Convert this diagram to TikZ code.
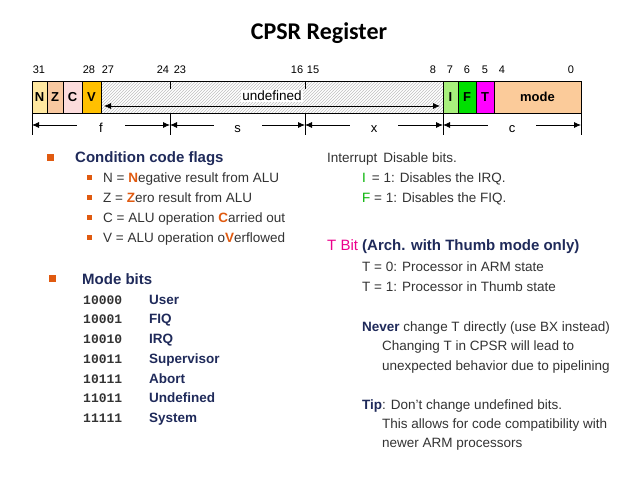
\documentclass[tikz,border=0pt]{standalone}
\usepackage{fontspec}
\setmainfont{Liberation Sans}
\setmonofont{Liberation Mono}
\newfontfamily\titlef{Carlito}
\usetikzlibrary{patterns,arrows.meta}
\definecolor{navy}{HTML}{1F2A5A}
\definecolor{org}{HTML}{E05A10}
\definecolor{gtxt}{HTML}{333333}
\begin{document}
\begin{tikzpicture}[x=1pt,y=-1pt,
 cell/.style={draw=black,line width=1pt},
 bl/.style={font=\fontsize{11}{12}\selectfont,anchor=base},
 tx/.style={anchor=base west,inner sep=0pt,font=\fontsize{13.5}{15}\selectfont,text=gtxt},
 hd/.style={anchor=base west,inner sep=0pt,font=\fontsize{15}{17}\selectfont\bfseries,text=navy},
 bul/.style={fill=org,minimum size=7pt,inner sep=0pt},
 sbul/.style={fill=org,minimum size=5pt,inner sep=0pt},
 mono/.style={anchor=base west,inner sep=0pt,font=\ttfamily\fontsize{13}{15}\selectfont\bfseries,text=gtxt}]
\useasboundingbox (0,0) rectangle (638,478);
\node (title) at (319,33) {\titlef\bfseries\fontsize{24}{26}\selectfont CPSR Register};
% cells
\fill[pattern=north east lines,pattern color=gray!50] (101,82) rectangle (443,114);
\filldraw[cell,fill={rgb,255:red,255;green,232;blue,160}] (32,82) rectangle (47,114);
\filldraw[cell,fill={rgb,255:red,248;green,200;blue,160}] (47,82) rectangle (63,114);
\filldraw[cell,fill={rgb,255:red,252;green,220;blue,220}] (63,82) rectangle (82,114);
\filldraw[cell,fill={rgb,255:red,255;green,192;blue,0}] (82,82) rectangle (101,114);
\filldraw[cell,fill={rgb,255:red,168;green,240;blue,124}] (443,82) rectangle (458,114);
\filldraw[cell,fill={rgb,255:red,0;green,224;blue,0}] (458,82) rectangle (476,114);
\filldraw[cell,fill={rgb,255:red,255;green,0;blue,255}] (476,82) rectangle (494,114);
\filldraw[cell,fill={rgb,255:red,251;green,203;blue,154}] (494,82) rectangle (581,114);
\draw[cell] (32,82) rectangle (581,114);
\draw (170,82) -- (170,89) (305,82) -- (305,89);
\foreach \x/\t in {39.5/N,55/Z,72.5/C,91.5/V,450.5/I,467/F,485/T,537.5/mode}
  \node[font=\bfseries\fontsize{13}{14}\selectfont] at (\x,97) {\t};
\node[fill=white,inner sep=1pt,font=\fontsize{13.5}{15}\selectfont] (und) at (272,96) {undefined};
\coordinate (ua) at (104,106); \coordinate (ub) at (440,106);
\draw[{Latex[length=7pt,width=6pt]}-{Latex[length=7pt,width=6pt]},line width=0.8pt] (ua) -- (ub);
% bit numbers
\foreach \x/\t in {39/31,89/28,108/27,163/24,180/23,297/16,313/15,433/8,450/7,467/6,485/5,502/4,571/0}
  \node[bl] at (\x,74) {\t};
% lower arrows
\foreach \x in {32,170,305,443,581} \draw (\x,114) -- (\x,135);
\foreach \a/\b/\t in {32/170/f,170/305/s,305/443/x,443/581/c}{
  \draw[{Latex[length=7pt,width=6pt]}-{Latex[length=7pt,width=6pt]},line width=0.8pt] (\a,125) -- (\b,125);
  \fill[white] ({(\a+\b)/2-24},120) rectangle ({(\a+\b)/2+24},130);
  \node[inner sep=0pt,font=\fontsize{13}{14}\selectfont,anchor=base] (L\t) at ({(\a+\b)/2},133) {\t};
}
% left column
\node[bul] at (50,158) {};
\node[hd] at (75,163) {Condition code flags};
\node[sbul] at (89,178) {}; \node[tx] at (103,183) {N = \textcolor{org}{\textbf{N}}egative result from ALU};
\node[sbul] at (89,198) {}; \node[tx] at (103,203) {Z = \textcolor{org}{\textbf{Z}}ero result from ALU};
\node[sbul] at (89,218) {}; \node[tx] at (103,223) {C = ALU operation \textcolor{org}{\textbf{C}}arried out};
\node[sbul] at (89,238) {}; \node[tx] at (103,243) {V = ALU operation o\textcolor{org}{\textbf{V}}erflowed};
\node[bul] at (52,279) {};
\node[hd] at (82,285) {Mode bits};
\foreach \y/\c/\m in {305/10000/User,324/10001/FIQ,344/10010/IRQ,364/10011/Supervisor,384/10111/Abort,403/11011/Undefined,423/11111/System}{
  \node[mono] at (83,\y) {\c};
  \node[hd,font=\fontsize{13.5}{15}\selectfont\bfseries] at (149,\y) {\m};
}
% right column
\node[tx] at (327,163) {Interrupt\, Disable bits.};
\node[tx] at (362,183) {\textcolor{green!70!black}{I}\, = 1: Disables the IRQ.};
\node[tx] at (362,203) {\textcolor{green!70!black}{F} = 1: Disables the FIQ.};
\node[tx,font=\fontsize{15}{17}\selectfont] at (327,251) {\textcolor{magenta}{T Bit} \textcolor{navy}{\textbf{(Arch. with Thumb mode only)}}};
\node[tx] at (362,272) {T = 0: Processor in ARM state};
\node[tx] at (362,292) {T = 1: Processor in Thumb state};
\node[tx] at (362,332) {\textcolor{navy}{\textbf{Never}} change T directly (use BX instead)};
\node[tx] at (382,351) {Changing T in CPSR will lead to};
\node[tx] at (382,371) {unexpected behavior due to pipelining};
\node[tx] at (362,410) {\textcolor{navy}{\textbf{Tip}}: Don't change undefined bits.};
\node[tx] at (382,429) {This allows for code compatibility with};
\node[tx] at (382,448) {newer ARM processors};
\end{tikzpicture}
\end{document}
